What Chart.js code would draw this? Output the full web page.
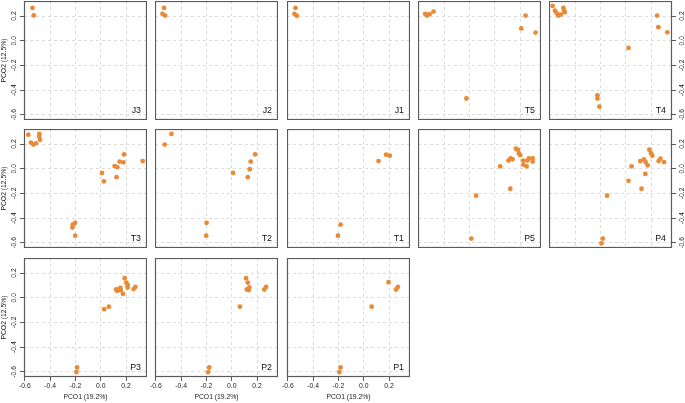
<!DOCTYPE html>
<html>
<head>
<meta charset="utf-8">
<script src="https://cdn.jsdelivr.net/npm/chart.js@4.4.1/dist/chart.umd.min.js"></script>
<style>
  body { margin: 0; background: #fff; }
  #wrap { position: relative; width: 685px; height: 403px; overflow: hidden; background: #fff; }
  #wrap canvas { position: absolute; }
</style>
</head>
<body>
<div id="wrap"></div>
<script>
/* ejes comunes */
const xTicks = [-0.6, -0.4, -0.2, 0.0, 0.2];
const yTicks = [-0.6, -0.4, -0.2, 0.0, 0.2];
const xTitle = "PCO1 (19.2%)";
const yTitle = "PCO2 (12.5%)";

/* datos por panel (PCO1, PCO2) */
const j3X = [-0.540, -0.530];
const j3Y = [0.266, 0.205];

const j2X = [-0.535, -0.548, -0.527];
const j2Y = [0.266, 0.218, 0.204];

const j1X = [-0.540, -0.548, -0.529];
const j1Y = [0.266, 0.218, 0.202];

const t5X = [-0.550, -0.536, -0.515, -0.484, 0.244, 0.210, 0.323, -0.224];
const t5Y = [0.218, 0.204, 0.215, 0.236, 0.204, 0.100, 0.066, -0.468];

const t4X = [-0.578, -0.560, -0.545, -0.533, -0.514, -0.493, -0.488, -0.482, 0.248, 0.258, 0.329, 0.022, -0.224, -0.224, -0.208];
const t4Y = [0.282, 0.244, 0.222, 0.204, 0.212, 0.266, 0.244, 0.230, 0.204, 0.110, 0.068, -0.058, -0.442, -0.468, -0.534];

const t3X = [-0.573, -0.552, -0.533, -0.512, -0.486, -0.486, -0.480, 0.010, 0.025, 0.110, 0.131, 0.125, 0.149, 0.179, 0.184, 0.332, -0.202, -0.221, -0.224, -0.202];
const t3Y = [0.276, 0.212, 0.196, 0.206, 0.282, 0.260, 0.234, -0.034, -0.102, 0.022, 0.012, -0.068, 0.058, 0.052, 0.116, 0.062, -0.438, -0.452, -0.476, -0.542];

const t2X = [-0.530, -0.477, 0.010, 0.127, 0.142, 0.150, 0.185, -0.199, -0.202];
const t2Y = [0.196, 0.282, -0.034, -0.068, -0.004, 0.058, 0.116, -0.438, -0.542];

const t1X = [0.117, 0.177, 0.206, -0.183, -0.204];
const t1Y = [0.062, 0.114, 0.106, -0.452, -0.542];

const p5X = [0.043, 0.109, 0.125, 0.141, 0.167, 0.183, 0.191, 0.202, 0.226, 0.226, 0.252, 0.258, 0.270, 0.300, 0.300, 0.123, -0.147, -0.185];
const p5Y = [0.020, 0.066, 0.084, 0.076, 0.162, 0.154, 0.126, 0.110, 0.066, 0.034, 0.020, 0.066, 0.084, 0.084, 0.058, -0.162, -0.218, -0.566];

const p4X = [0.022, 0.046, 0.115, 0.144, 0.157, 0.173, 0.155, 0.187, 0.200, 0.210, 0.125, 0.260, 0.274, 0.303, -0.147, -0.181, -0.192];
const p4Y = [-0.098, 0.020, 0.062, 0.076, 0.054, 0.028, -0.042, 0.154, 0.126, 0.106, -0.162, 0.062, 0.082, 0.054, -0.218, -0.566, -0.604];

const p3X = [0.028, 0.065, 0.123, 0.141, 0.155, 0.160, 0.176, 0.189, 0.202, 0.213, 0.213, 0.260, 0.274, 0.129, -0.187, -0.192];
const p3Y = [-0.093, -0.072, 0.067, 0.062, 0.080, 0.062, 0.032, 0.158, 0.123, 0.104, 0.083, 0.070, 0.088, 0.056, -0.565, -0.602];

const p2X = [0.065, 0.119, 0.135, 0.113, 0.127, 0.139, 0.258, 0.272, -0.178, -0.186];
const p2Y = [-0.072, 0.067, 0.062, 0.158, 0.123, 0.083, 0.067, 0.088, -0.565, -0.602];

const p1X = [0.196, 0.270, 0.256, 0.063, -0.183, -0.193];
const p1Y = [0.126, 0.088, 0.067, -0.072, -0.565, -0.602];

/* orden de los paneles: fila por fila */
const paneles = [
  ["J3", j3X, j3Y], ["J2", j2X, j2Y], ["J1", j1X, j1Y], ["T5", t5X, t5Y], ["T4", t4X, t4Y],
  ["T3", t3X, t3Y], ["T2", t2X, t2Y], ["T1", t1X, t1Y], ["P5", p5X, p5Y], ["P4", p4X, p4Y],
  ["P3", p3X, p3Y], ["P2", p2X, p2Y], ["P1", p1X, p1Y],
];

/* posiciones de la cuadricula */
const colLeft = [24, 155, 287, 418, 549];
const rowTop = [1, 129, 258];
const anchoPanel = 123;
const altoPanel = 119;
const padIzq = 24;
const padDer = 14;
const padAbajo = 24;
const margenTick = 8; // espacio para el "-0.6" del eje x cuando no hay eje y

const fuente = "'Liberation Sans', Arial, Helvetica, sans-serif";
const colorPunto = "#E98A36";

const formatoTick = (v) => (v < 0 ? "-" : "") + Math.abs(v).toFixed(1);

/* caja del panel y etiqueta abajo a la derecha */
const cajaPanel = {
  id: "cajaPanel",
  afterDraw(chart) {
    const { ctx, chartArea } = chart;
    ctx.save();
    ctx.strokeStyle = "#5a5a5a";
    ctx.lineWidth = 1.2;
    ctx.strokeRect(chartArea.left + 0.5, chartArea.top + 0.5, chartArea.right - chartArea.left - 1, chartArea.bottom - chartArea.top - 1);
    ctx.fillStyle = "#111";
    ctx.font = "8.8px " + fuente;
    ctx.textAlign = "right";
    ctx.textBaseline = "alphabetic";
    ctx.fillText(chart.config.options.plugins.cajaPanel.etiqueta, chartArea.right - 6, chartArea.bottom - 7);
    ctx.restore();
  },
};

const sinRelleno = (s) => {
  s.paddingLeft = 0;
  s.paddingRight = 0;
  s.paddingTop = 0;
  s.paddingBottom = 0;
};

const wrap = document.getElementById("wrap");

paneles.forEach(([nombre, xs, ys], i) => {
  const fila = Math.floor(i / 5);
  const col = i % 5;
  const ejeIzq = col === 0;
  const ejeDer = col === 4;
  const ejeAbajo = fila === 2;

  // margen extra a la izquierda para paneles de abajo sin eje y
  const extra = ejeAbajo && !ejeIzq ? margenTick : 0;
  const pl = (ejeIzq ? padIzq : 0) + extra;
  const pr = ejeDer ? padDer : 0;
  const pb = ejeAbajo ? padAbajo : 0;

  const canvas = document.createElement("canvas");
  canvas.width = anchoPanel + pl + pr;
  canvas.height = altoPanel + pb;
  canvas.style.left = (colLeft[col] - pl) + "px";
  canvas.style.top = rowTop[fila] + "px";
  canvas.style.width = canvas.width + "px";
  canvas.style.height = canvas.height + "px";
  wrap.appendChild(canvas);

  const ejeY = ejeIzq || ejeDer;

  new Chart(canvas.getContext("2d"), {
    type: "scatter",
    data: {
      datasets: [
        {
          label: nombre,
          data: xs.map((x, k) => ({ x: x, y: ys[k] })),
          backgroundColor: colorPunto,
          borderWidth: 0,
          pointRadius: 2.4,
        },
      ],
    },
    options: {
      responsive: false,
      animation: false,
      devicePixelRatio: 1,
      layout: { padding: { left: extra, right: 0, top: 0, bottom: 0 }, autoPadding: false },
      plugins: {
        legend: { display: false },
        tooltip: { enabled: false },
        cajaPanel: { etiqueta: nombre },
      },
      scales: {
        x: {
          type: "linear",
          min: -0.607,
          max: 0.366,
          afterBuildTicks: (s) => { s.ticks = xTicks.map((v) => ({ value: v })); },
          afterFit: (s) => { s.height = ejeAbajo ? padAbajo : 0; sinRelleno(s); },
          border: { display: false, dash: [3, 3] },
          grid: {
            color: "#dcdcdc",
            lineWidth: 1,
            drawTicks: ejeAbajo,
            tickLength: 4,
            tickColor: "#5a5a5a",
            tickBorderDash: [],
          },
          ticks: {
            display: ejeAbajo,
            padding: 1.5,
            color: "#222",
            maxRotation: 0,
            font: { family: fuente, size: 6.8 },
            callback: formatoTick,
          },
          title: {
            display: ejeAbajo,
            text: xTitle,
            color: "#222",
            padding: 0,
            font: { family: fuente, size: 6.8 },
          },
        },
        y: {
          type: "linear",
          position: ejeDer ? "right" : "left",
          min: -0.642,
          max: 0.322,
          afterBuildTicks: (s) => { s.ticks = yTicks.map((v) => ({ value: v })); },
          afterFit: (s) => { s.width = ejeIzq ? padIzq : (ejeDer ? padDer : 0); sinRelleno(s); },
          border: { display: false, dash: [3, 3] },
          grid: {
            color: "#dcdcdc",
            lineWidth: 1,
            drawTicks: ejeY,
            tickLength: 4,
            tickColor: "#5a5a5a",
            tickBorderDash: [],
          },
          ticks: {
            display: ejeY,
            padding: 0,
            color: "#222",
            minRotation: 90,
            maxRotation: 90,
            crossAlign: "center",
            font: { family: fuente, size: 6.8 },
            callback: formatoTick,
          },
          title: {
            display: ejeIzq,
            text: yTitle,
            color: "#222",
            padding: 0,
            font: { family: fuente, size: 6.8 },
          },
        },
      },
    },
    plugins: [cajaPanel],
  });
});
</script>
</body>
</html>
